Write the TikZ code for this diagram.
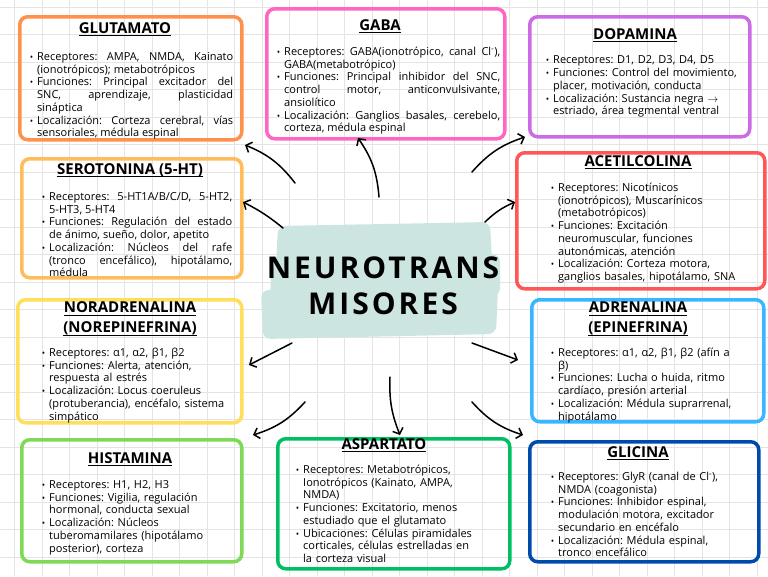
\documentclass[tikz,border=0pt]{standalone}
\usepackage{fontspec}
\setmainfont{Open Sans}
\newfontfamily\bigfont[LetterSpace=10]{Open Sans}
\usepackage{enumitem}
\usepackage{tikz}
\usetikzlibrary{arrows.meta}

\definecolor{glucol}{HTML}{FF914D}
\definecolor{gabacol}{HTML}{FF66C4}
\definecolor{dopcol}{HTML}{CB6CE6}
\definecolor{sercol}{HTML}{FFBD59}
\definecolor{acecol}{HTML}{FF5757}
\definecolor{norcol}{HTML}{FFDE59}
\definecolor{adrcol}{HTML}{38B6FF}
\definecolor{hiscol}{HTML}{7ED957}
\definecolor{aspcol}{HTML}{00BF63}
\definecolor{glycol}{HTML}{004AAD}
\definecolor{maincol}{HTML}{CDE5E1}
\definecolor{gridcol}{HTML}{E4E4E4}

\frenchspacing
\newcommand{\ulttl}[1]{\leavevmode\setbox0=\hbox{#1}\rlap{\rule[-3pt]{\wd0}{1.3pt}}\box0}
\newenvironment{pts}{\begin{itemize}[leftmargin=10pt,labelsep=4pt,label={\small\textbullet},itemsep=0pt,parsep=0pt,topsep=0pt,partopsep=0pt]}{\end{itemize}}

\begin{document}
\begin{tikzpicture}[x=1pt,y=-1pt,
    panel/.style={anchor=north west, rounded corners=8pt, line width=3.5pt, inner sep=0pt},
    ttl/.style={anchor=base, inner sep=0pt, align=center, font=\fontsize{15}{20}\selectfont\bfseries},
    body/.style={anchor=north west, inner sep=0pt, font=\fontsize{11}{12.7}\selectfont},
    arr/.style={line width=1.5pt, line cap=round, -{Straight Barb[length=5pt,width=11pt]}}]
    \useasboundingbox[fill=white] (0,0) rectangle (768,576);

    \foreach \x in {0,...,27}
        \draw[gridcol, line width=0.8pt] ({14.5+27.5*\x},0) -- ++(0,576);
    \foreach \y in {0,...,20}
        \draw[gridcol, line width=0.8pt] (0,{7+27.5*\y}) -- ++(768,0);

    \fill[maincol, rounded corners=8pt] (278,226) -- (490,222) -- (492,262) -- (276,266) -- cycle;
    \fill[maincol, rounded corners=8pt] (272,256) -- (500,254) -- (500,296) -- (270,298) -- cycle;
    \fill[maincol, rounded corners=8pt] (261,290) -- (498,287) -- (496,334) -- (263,339) -- cycle;
    \node[align=center, font={\bigfont\fontsize{30}{36}\selectfont\bfseries}] (main) at (383,286) {NEUROTRANS\\MISORES};

    \node[panel, draw=glucol, minimum width=222pt, minimum height=123pt] (gluBox) at (18,15) {};
    \node[ttl] (gluT) at (125,33) {\ulttl{GLUTAMATO}};
    \node[body, align=justify, text width=206pt] (glu) at (27,47.6) {\begin{pts}
        \item Receptores: AMPA, NMDA, Kainato \linebreak (ionotrópicos); metabotrópicos
        \item Funciones: Principal excitador del \linebreak SNC, aprendizaje, plasticidad \linebreak sináptica
        \item Localización: Corteza cerebral, vías \linebreak sensoriales, médula espinal
    \end{pts}};

    \node[panel, draw=gabacol, minimum width=238pt, minimum height=130pt] (gabaBox) at (265,7) {};
    \node[ttl] (gabaT) at (380,30) {\ulttl{GABA}};
    \node[body, align=justify, text width=226pt] (gaba) at (274,42.6) {\begin{pts}
        \item Receptores: GABA(ionotrópico, canal Cl\textsuperscript{-}), \linebreak GABA(metabotrópico)
        \item Funciones: Principal inhibidor del SNC, \linebreak control motor, anticonvulsivante, \linebreak ansiolítico
        \item Localización: Ganglios basales, cerebelo, \linebreak corteza, médula espinal
    \end{pts}};

    \node[panel, draw=dopcol, minimum width=220pt, minimum height=120pt] (dopBox) at (528,15) {};
    \node[ttl] (dopT) at (635,39) {\ulttl{DOPAMINA}};
    \node[body, align=left, text width=205pt] (dop) at (543,51) {\begin{pts}
        \item Receptores: D1, D2, D3, D4, D5
        \item Funciones: Control del movimiento,\\ placer, motivación, conducta
        \item Localización: Sustancia negra $\rightarrow$\\ estriado, área tegmental ventral
    \end{pts}};

    \node[panel, draw=sercol, minimum width=220pt, minimum height=119pt] (serBox) at (20,157) {};
    \node[ttl] (serT) at (130,174) {\ulttl{SEROTONINA (5-HT)}};
    \node[body, align=justify, text width=193pt] (ser) at (39,187.6) {\begin{pts}
        \item Receptores: 5-HT1A/B/C/D, 5-HT2, \linebreak 5-HT3, 5-HT4
        \item Funciones: Regulación del estado \linebreak de ánimo, sueño, dolor, apetito
        \item Localización: Núcleos del rafe \linebreak (tronco encefálico), hipotálamo, \linebreak médula
    \end{pts}};

    \node[panel, draw=acecol, minimum width=248pt, minimum height=136pt] (aceBox) at (515,151) {};
    \node[ttl] (aceT) at (638,166) {\ulttl{ACETILCOLINA}};
    \node[body, align=left, text width=205pt] (ace) at (548,178.6) {\begin{pts}
        \item Receptores: Nicotínicos\\ (ionotrópicos), Muscarínicos\\ (metabotrópicos)
        \item Funciones: Excitación\\ neuromuscular, funciones\\ autonómicas, atención
        \item Localización: Corteza motora,\\ ganglios basales, hipotálamo, SNA
    \end{pts}};

    \node[panel, draw=norcol, minimum width=224pt, minimum height=123pt] (norBox) at (16,298) {};
    \node[ttl, anchor=center] (norT) at (130,319) {\ulttl{NORADRENALINA}\\ \ulttl{(NOREPINEFRINA)}};
    \node[body, align=left, text width=200pt] (nor) at (39,343.6) {\begin{pts}
        \item Receptores: α1, α2, β1, β2
        \item Funciones: Alerta, atención,\\ respuesta al estrés
        \item Localización: Locus coeruleus\\ (protuberancia), encéfalo, sistema\\ simpático
    \end{pts}};

    \node[panel, draw=adrcol, minimum width=232pt, minimum height=122pt] (adrBox) at (530,298) {};
    \node[ttl, anchor=center] (adrT) at (638,319) {\ulttl{ADRENALINA}\\ \ulttl{(EPINEFRINA)}};
    \node[body, align=left, text width=205pt] (adr) at (548,343.6) {\begin{pts}
        \item Receptores: α1, α2, β1, β2 (afín a\\ β)
        \item Funciones: Lucha o huida, ritmo\\ cardíaco, presión arterial
        \item Localización: Médula suprarrenal,\\ hipotálamo
    \end{pts}};

    \node[panel, draw=hiscol, minimum width=220pt, minimum height=122pt] (hisBox) at (20,438) {};
    \node[ttl] (hisT) at (130,463) {\ulttl{HISTAMINA}};
    \node[body, align=left, text width=195pt] (his) at (39,475.6) {\begin{pts}
        \item Receptores: H1, H2, H3
        \item Funciones: Vigilia, regulación\\ hormonal, conducta sexual
        \item Localización: Núcleos\\ tuberomamilares (hipotálamo\\ posterior), corteza
    \end{pts}};

    \node[panel, draw=aspcol, minimum width=232pt, minimum height=130pt] (aspBox) at (276,437) {};
    \node[ttl] (aspT) at (384,449) {\ulttl{ASPARTATO}};
    \node[body, align=left, text width=205pt] (asp) at (293,460.6) {\begin{pts}
        \item Receptores: Metabotrópicos,\\ Ionotrópicos (Kainato, AMPA,\\ NMDA)
        \item Funciones: Excitatorio, menos\\ estudiado que el glutamato
        \item Ubicaciones: Células piramidales\\ corticales, células estrelladas en\\ la corteza visual
    \end{pts}};

    \node[panel, draw=glycol, minimum width=229pt, minimum height=120pt] (glyBox) at (528,440) {};
    \node[ttl] (glyT) at (638,457) {\ulttl{GLICINA}};
    \node[body, align=left, text width=205pt] (gly) at (548,467.6) {\begin{pts}
        \item Receptores: GlyR (canal de Cl\textsuperscript{-}),\\ NMDA (coagonista)
        \item Funciones: Inhibidor espinal,\\ modulación motora, excitador\\ secundario en encéfalo
        \item Localización: Médula espinal,\\ tronco encefálico
    \end{pts}};

    \coordinate (gluS) at (295,183);
    \coordinate (gluE) at (245,145);
    \coordinate (gabaS) at (379,197);
    \coordinate (gabaE) at (358,138);
    \coordinate (dopS) at (472,172);
    \coordinate (dopE) at (525,137);
    \coordinate (serS) at (283,228);
    \coordinate (serE) at (243,202);
    \coordinate (aceS) at (485,222);
    \coordinate (aceE) at (515,202);
    \coordinate (norS) at (292,343);
    \coordinate (norE) at (249,365);
    \coordinate (adrS) at (472,343);
    \coordinate (adrE) at (518,360);
    \coordinate (aspS) at (390,377);
    \coordinate (aspE) at (400,435);
    \coordinate (hisS) at (305,402);
    \coordinate (hisE) at (253,435);
    \coordinate (glyS) at (472,402);
    \coordinate (glyE) at (523,435);

    \draw[arr] (gluS) to[bend right=15] (gluE);
    \draw[arr] (gabaS) to[bend right=15] (gabaE);
    \draw[arr] (dopS) to[bend left=15] (dopE);
    \draw[arr] (serS) to[bend right=6] (serE);
    \draw[arr] (aceS) to[bend left=10] (aceE);
    \draw[arr] (norS) -- (norE);
    \draw[arr] (adrS) -- (adrE);
    \draw[arr] (aspS) to[bend right=12] (aspE);
    \draw[arr] (hisS) to[bend left=15] (hisE);
    \draw[arr] (glyS) to[bend right=15] (glyE);
\end{tikzpicture}
\end{document}
